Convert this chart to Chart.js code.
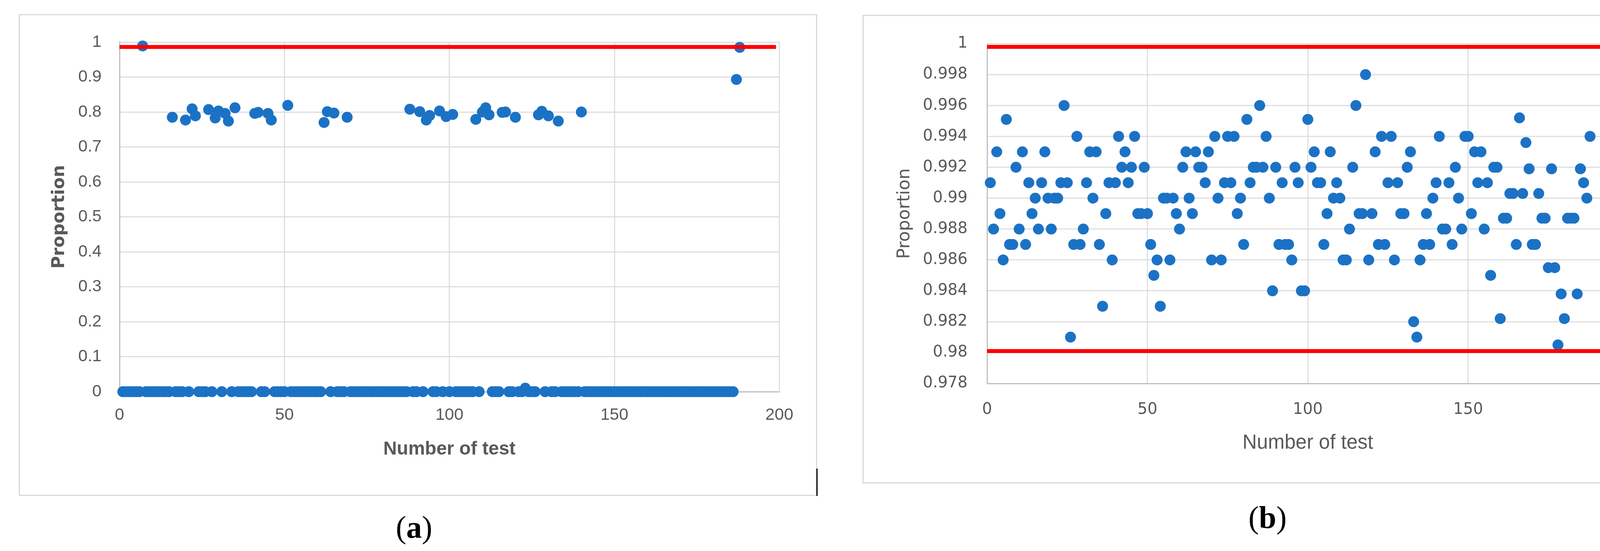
<!DOCTYPE html>
<html>
<head>
<meta charset="utf-8">
<title>Proportion per test</title>
<script src="https://cdn.jsdelivr.net/npm/chart.js@4.4.1/dist/chart.umd.min.js"></script>
<style>
  html, body { margin: 0; padding: 0; background: #fff; }
  body { position: relative; width: 4297px; height: 1411px; overflow: hidden; }
  .frame { position: absolute; box-sizing: border-box; border: 3px solid #d9d9d9; }
  canvas { position: absolute; }
  .caption { position: absolute; transform: translate(-50%, -50%); font-family: "Liberation Serif", serif; font-size: 80px; color: #000; white-space: nowrap; }
  .mark { position: absolute; background: #000; }
</style>
</head>
<body>
<div class="frame" style="left:48px;top:36px;width:2044px;height:1234px"></div>
<canvas id="chartA" width="2044" height="1234" style="left:48px;top:36px;width:2044px;height:1234px"></canvas>
<div class="mark" style="left:2090px;top:1200px;width:3px;height:70px"></div>
<div class="caption" style="left:1060px;top:1350px">(<b>a</b>)</div>

<div class="frame" style="left:2208px;top:38px;width:2063px;height:1200px"></div>
<canvas id="chartB" width="2063" height="1200" style="left:2208px;top:38px;width:2063px;height:1200px"></canvas>
<div class="caption" style="left:3245px;top:1325px">(<b>b</b>)</div>

<script>
// tick labels
const xTicks = [0, 50, 100, 150, 200];
const yTicksA = [0, 0.1, 0.2, 0.3, 0.4, 0.5, 0.6, 0.7, 0.8, 0.9, 1];
const yTicksB = [0.978, 0.98, 0.982, 0.984, 0.986, 0.988, 0.99, 0.992, 0.994, 0.996, 0.998, 1];

// (a) proportion for test 1..188
const proportionA = [
  0, 0, 0, 0, 0, 0, 0.989, 0, 0, 0,
  0, 0, 0, 0, 0, 0.785, 0, 0, 0, 0.777,
  0, 0.809, 0.789, 0, 0, 0, 0.807, 0, 0.783, 0.803,
  0, 0.796, 0.774, 0, 0.812, 0, 0, 0, 0, 0,
  0.796, 0.799, 0, 0, 0.796, 0.777, 0, 0, 0, 0,
  0.819, 0, 0, 0, 0, 0, 0, 0, 0, 0,
  0, 0.770, 0.801, 0, 0.797, 0, 0, 0, 0.785, 0,
  0, 0, 0, 0, 0, 0, 0, 0, 0, 0,
  0, 0, 0, 0, 0, 0, 0, 0.808, 0, 0,
  0.801, 0, 0.777, 0.790, 0, 0, 0.803, 0, 0.787, 0,
  0.793, 0, 0, 0, 0, 0, 0, 0.779, 0, 0.800,
  0.812, 0.792, 0, 0, 0, 0.799, 0.800, 0, 0, 0.785,
  0, 0, 0.010, 0, 0, 0, 0.792, 0.802, 0, 0.789,
  0, 0, 0.774, 0, 0, 0, 0, 0, 0, 0.800,
  0, 0, 0, 0, 0, 0, 0, 0, 0, 0,
  0, 0, 0, 0, 0, 0, 0, 0, 0, 0,
  0, 0, 0, 0, 0, 0, 0, 0, 0, 0,
  0, 0, 0, 0, 0, 0, 0, 0, 0, 0,
  0, 0, 0, 0, 0, 0, 0.893, 0.985
];

// (b) proportion for test 1..188
const proportionB = [
  0.991, 0.988, 0.993, 0.989, 0.986, 0.9951, 0.987, 0.987, 0.992, 0.988,
  0.993, 0.987, 0.991, 0.989, 0.990, 0.988, 0.991, 0.993, 0.990, 0.988,
  0.990, 0.990, 0.991, 0.996, 0.991, 0.981, 0.987, 0.994, 0.987, 0.988,
  0.991, 0.993, 0.990, 0.993, 0.987, 0.983, 0.989, 0.991, 0.986, 0.991,
  0.994, 0.992, 0.993, 0.991, 0.992, 0.994, 0.989, 0.989, 0.992, 0.989,
  0.987, 0.985, 0.986, 0.983, 0.990, 0.990, 0.986, 0.990, 0.989, 0.988,
  0.992, 0.993, 0.990, 0.989, 0.993, 0.992, 0.992, 0.991, 0.993, 0.986,
  0.994, 0.990, 0.986, 0.991, 0.994, 0.991, 0.994, 0.989, 0.990, 0.987,
  0.9951, 0.991, 0.992, 0.992, 0.996, 0.992, 0.994, 0.990, 0.984, 0.992,
  0.987, 0.991, 0.987, 0.987, 0.986, 0.992, 0.991, 0.984, 0.984, 0.9951,
  0.992, 0.993, 0.991, 0.991, 0.987, 0.989, 0.993, 0.990, 0.991, 0.990,
  0.986, 0.986, 0.988, 0.992, 0.996, 0.989, 0.989, 0.998, 0.986, 0.989,
  0.993, 0.987, 0.994, 0.987, 0.991, 0.994, 0.986, 0.991, 0.989, 0.989,
  0.992, 0.993, 0.982, 0.981, 0.986, 0.987, 0.989, 0.987, 0.990, 0.991,
  0.994, 0.988, 0.988, 0.991, 0.987, 0.992, 0.990, 0.988, 0.994, 0.994,
  0.989, 0.993, 0.991, 0.993, 0.988, 0.991, 0.985, 0.992, 0.992, 0.9822,
  0.9887, 0.9887, 0.9903, 0.9903, 0.987, 0.9952, 0.9903, 0.9936, 0.9919, 0.987,
  0.987, 0.9903, 0.9887, 0.9887, 0.9855, 0.9919, 0.9855, 0.9805, 0.9838, 0.9822,
  0.9887, 0.9887, 0.9887, 0.9838, 0.9919, 0.991, 0.990, 0.994
];

// red reference lines
const limitsA = [0.986];
const limitsB = [0.9998, 0.9801];
const limitEndA = 199;
const limitEndB = 200;

function toPoints(values) {
    return values.map((v, i) => ({ x: i + 1, y: v }));
}

function scatterChart(canvasId, values, limits, limitEnd, yTicks, yMin, L) {
    const datasets = limits.map(y => ({
        type: 'line',
        data: [{ x: 0, y: y }, { x: limitEnd, y: y }],
        showLine: true,
        borderColor: '#ff0000',
        borderWidth: 10,
        pointRadius: 0,
        order: 0,
        clip: false
    }));
    datasets.push({
        data: toPoints(values),
        backgroundColor: '#1b72c5',
        borderWidth: 0,
        pointRadius: 14,
        order: 1,
        clip: false
    });

    const ctx = document.getElementById(canvasId).getContext('2d');
    return new Chart(ctx, {
        type: 'scatter',
        data: { datasets: datasets },
        options: {
            responsive: false,
            devicePixelRatio: 1,
            animation: false,
            events: [],
            layout: { padding: { left: 0, top: L.top, right: L.right, bottom: 0 } },
            plugins: { legend: { display: false }, tooltip: { enabled: false } },
            scales: {
                x: {
                    type: 'linear',
                    min: 0,
                    max: 200,
                    afterBuildTicks: s => { s.ticks = xTicks.map(v => ({ value: v })); },
                    afterFit: s => { s.height = L.xHeight; },
                    grid: { color: '#d9d9d9', lineWidth: 2.5, drawTicks: false },
                    border: { color: '#bfbfbf', width: 3 },
                    ticks: {
                        padding: L.xTickPad,
                        autoSkip: false,
                        maxRotation: 0,
                        color: '#595959',
                        font: L.tickFont,
                        callback: v => String(v)
                    },
                    title: {
                        display: true,
                        text: 'Number of test',
                        color: '#595959',
                        font: L.xTitleFont,
                        padding: { top: 0, bottom: L.xTitlePad }
                    }
                },
                y: {
                    type: 'linear',
                    min: yMin,
                    max: 1,
                    afterBuildTicks: s => { s.ticks = yTicks.map(v => ({ value: v })); },
                    afterFit: s => { s.width = L.yWidth; },
                    grid: { color: '#d9d9d9', lineWidth: 2.5, drawTicks: false },
                    border: { color: '#bfbfbf', width: 3 },
                    ticks: {
                        padding: L.yTickPad,
                        autoSkip: false,
                        color: '#595959',
                        font: L.tickFont,
                        callback: v => String(v)
                    },
                    title: {
                        display: true,
                        text: 'Proportion',
                        color: '#595959',
                        font: L.yTitleFont,
                        padding: { top: L.yTitlePad, bottom: 0 }
                    }
                }
            }
        }
    });
}

scatterChart('chartA', proportionA, limitsA, limitEndA, yTicksA, 0, {
    top: 63, right: 97, xHeight: 267, yWidth: 258,
    xTickPad: 34, yTickPad: 46, xTitlePad: 90, yTitlePad: 78,
    tickFont: { family: 'Liberation Sans', size: 43 },
    xTitleFont: { family: 'Liberation Sans', size: 48, weight: 'bold' },
    yTitleFont: { family: 'DejaVu Sans', size: 44, weight: 'bold' }
});

scatterChart('chartB', proportionB, limitsB, limitEndB, yTicksB, 0.978, {
    top: 62, right: 102, xHeight: 256, yWidth: 319,
    xTickPad: 44, yTickPad: 50, xTitlePad: 72, yTitlePad: 81,
    tickFont: { family: 'DejaVu Sans', size: 40 },
    xTitleFont: { family: 'Liberation Sans', size: 51 },
    yTitleFont: { family: 'DejaVu Sans', size: 45 }
});
</script>
</body>
</html>
